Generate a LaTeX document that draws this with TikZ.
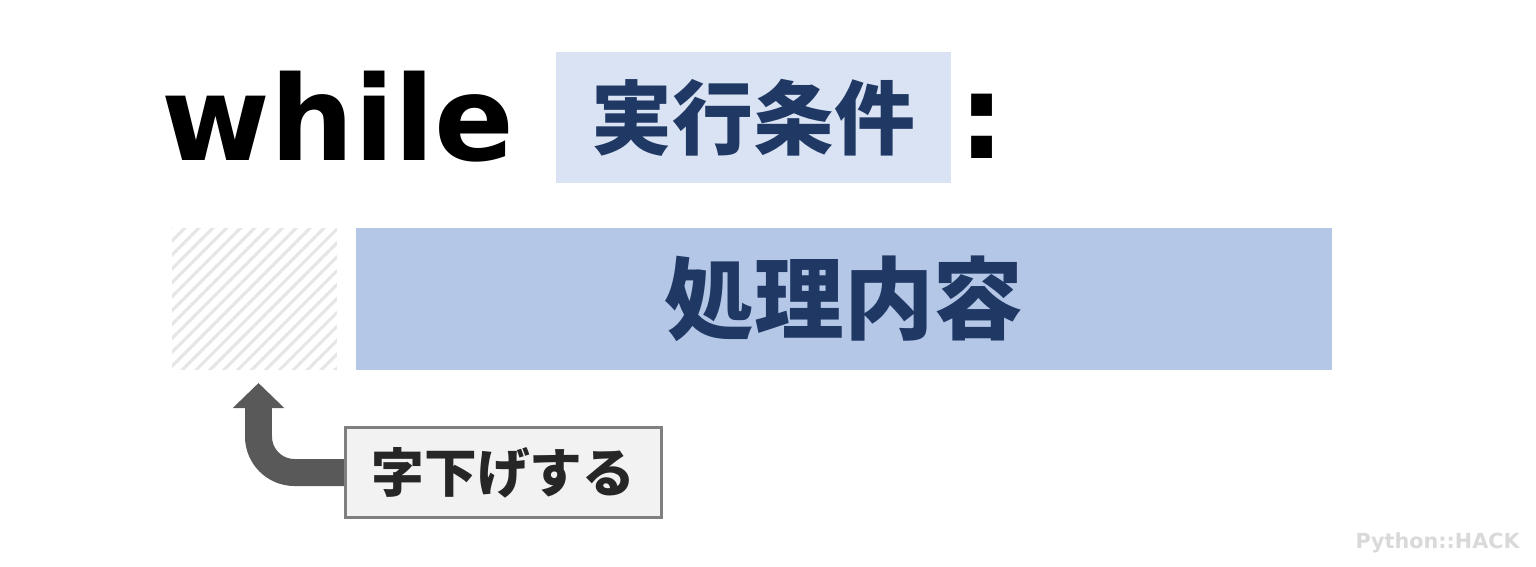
\documentclass[tikz,border=0pt]{standalone}
\usepackage{fontspec}
\setmainfont{Noto Sans CJK JP}
\newfontfamily\latinfont{DejaVu Sans}
\usetikzlibrary{arrows.meta,patterns.meta,positioning,backgrounds}
\definecolor{condfill}{HTML}{DAE3F3}
\definecolor{bodyfill}{HTML}{B4C7E7}
\definecolor{navy}{HTML}{1F3864}
\definecolor{arrowgray}{HTML}{595959}
\definecolor{notefill}{HTML}{F2F2F2}
\definecolor{noteedge}{HTML}{7F7F7F}
\definecolor{hatchgray}{HTML}{E6E6E6}
\definecolor{markgray}{HTML}{D9D9D9}
\tikzset{
	keyword/.style={inner sep=0, text=black, font=\latinfont\bfseries\fontsize{67}{67}\selectfont},
	slot/.style={inner sep=0, text=navy, font=\bfseries\fontsize{46}{46}\selectfont},
	hatch/.style={inner sep=0, pattern={Lines[angle=45,distance=5.6pt,line width=1.8pt]}, pattern color=hatchgray},
	note/.style={draw=noteedge, line width=1.7pt, fill=notefill, inner sep=0, text=black!85, font=\bfseries\fontsize{30}{30}\selectfont},
	indentarrow/.style={-{Triangle[width=1cm,length=0.5cm]}, draw=arrowgray, line width=0.54cm, rounded corners=0.72cm},
	brandmark/.style={inner sep=0, text=markgray, font=\latinfont\bfseries\fontsize{11.8}{11.8}\selectfont}
}
\begin{document}
\begin{tikzpicture}[x=0.02cm, y=-0.02cm]
	\useasboundingbox (0,0) rectangle (1536,566);
	
	\node [keyword, anchor=base] (while) at (338,160) {while};
	\node [slot, fill=condfill, minimum width=7.9cm, minimum height=2.62cm] (cond) at (753.5,117.5) {実行条件};
	\node [keyword, anchor=base] (colon) at (982.5,158) {:};
	
	\node [hatch, minimum width=3.3cm, minimum height=2.84cm] (indent) at (254.5,299) {};
	\node [slot, fill=bodyfill, minimum width=19.52cm, minimum height=2.84cm, font=\bfseries\fontsize{51}{51}\selectfont] (body) at (844,299) {処理内容};
	
	\coordinate (tip) at (258.5,383);
	\node [note, minimum width=6.32cm, minimum height=1.8cm] (label) at (503.5,472.5) {字下げする};
	\begin{scope}[on background layer]
		\draw [indentarrow] (label.west) -| (tip);
	\end{scope}
	
	\node [brandmark, anchor=base east] (brand) at (1520,548) {Python::HACK};
\end{tikzpicture}
\end{document}
